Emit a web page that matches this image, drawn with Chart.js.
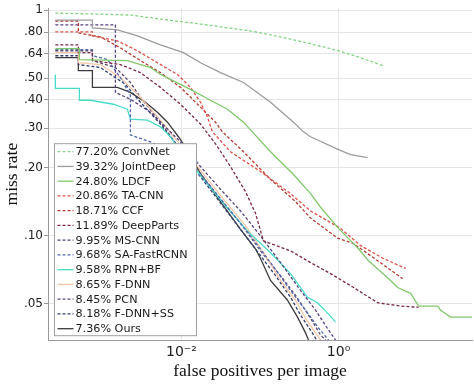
<!DOCTYPE html>
<html><head><meta charset="utf-8">
<script src="https://cdn.jsdelivr.net/npm/chart.js@4/dist/chart.umd.min.js"></script>
<style>html,body{margin:0;padding:0;background:#fff;}#wrap{width:474px;height:385px;position:relative;}</style>
</head><body><div id="wrap"><canvas id="c" width="474" height="385"></canvas></div>
<script>
const methods = ['ConvNet','JointDeep','LDCF','TA-CNN','CCF','DeepParts','MS-CNN','SA-FastRCNN','RPN+BF','F-DNN','PCN','F-DNN+SS','Ours'];
const rates = ['77.20%','39.32%','24.80%','20.86%','18.71%','11.89%','9.95%','9.68%','9.58%','8.65%','8.45%','8.18%','7.36%'];

const convnetFppi = [2.48e-4, 9.29e-4, 2.24e-3, 5.40e-3, 0.01746, 0.0757, 0.1825, 0.440, 1.0, 1.907, 3.64];
const convnetMiss = [0.970, 0.960, 0.951, 0.913, 0.868, 0.809, 0.761, 0.710, 0.661, 0.616, 0.568];
const jointdeepFppi = [2.48e-4, 7.35e-4, 7.35e-4, 1.53e-3, 2.75e-3, 5.40e-3, 0.0106, 0.01746, 0.0314, 0.06164, 0.1361, 0.2672, 0.3583, 0.4398, 1.0, 1.422, 2.341];
const jointdeepMiss = [0.904, 0.904, 0.834, 0.817, 0.769, 0.702, 0.648, 0.585, 0.529, 0.478, 0.391, 0.319, 0.289, 0.275, 0.241, 0.229, 0.222];
const ldcfFppi = [2.48e-4, 5.02e-4, 5.02e-4, 2.05e-3, 4.03e-3, 5.40e-3, 0.01302, 0.02341, 0.03855, 0.06164, 0.0757, 0.1361, 0.2672, 0.4398, 0.5899, 1.0, 1.746, 2.411, 4.597, 5.645, 8.264, 10.45, 18.25, 19.93, 26.72, 50];
const ldcfMiss = [0.675, 0.675, 0.604, 0.598, 0.557, 0.519, 0.446, 0.399, 0.364, 0.319, 0.295, 0.236, 0.187, 0.154, 0.134, 0.108, 0.0886, 0.0777, 0.0635, 0.0591, 0.0557, 0.0489, 0.0489, 0.0469, 0.0437, 0.0437];
const tacnnFppi = [2.48e-4, 7.35e-4, 7.35e-4, 1.53e-3, 2.75e-3, 4.94e-3, 8.89e-3, 0.01302, 0.01746, 0.02144, 0.02483, 0.0421, 0.1015, 0.2446, 0.4398, 1.060, 1.907, 3.743, 7.137];
const tacnnMiss = [0.801, 0.801, 0.769, 0.731, 0.661, 0.585, 0.519, 0.455, 0.391, 0.336, 0.289, 0.236, 0.193, 0.154, 0.129, 0.108, 0.0906, 0.0794, 0.0718];
const ccfFppi = [2.48e-4, 4.87e-4, 4.87e-4, 9.29e-4, 1.67e-3, 3.0e-3, 5.40e-3, 9.71e-3, 0.01746, 0.02711, 0.0333, 0.06164, 0.1361, 0.2833, 0.4398, 0.9712, 1.553, 3.140, 6.535];
const ccfMiss = [0.895, 0.895, 0.793, 0.761, 0.681, 0.598, 0.529, 0.455, 0.372, 0.319, 0.289, 0.236, 0.178, 0.142, 0.120, 0.0978, 0.0925, 0.0777, 0.0647];
const deeppartsFppi = [2.48e-4, 4.87e-4, 4.87e-4, 7.35e-4, 7.35e-4, 1.67e-3, 3.0e-3, 5.40e-3, 9.71e-3, 0.01746, 0.02711, 0.0421, 0.06535, 0.08764, 0.1108, 0.2446, 0.4398, 0.7911, 1.553, 3.140, 6.164, 10.45];
const deeppartsMiss = [0.702, 0.702, 0.648, 0.648, 0.598, 0.574, 0.529, 0.455, 0.383, 0.313, 0.256, 0.203, 0.157, 0.126, 0.095, 0.0859, 0.0762, 0.0681, 0.0591, 0.0506, 0.0489, 0.0483];
const mscnnFppi = [2.48e-4, 1.443e-3, 1.443e-3, 2.24e-3, 4.03e-3, 6.25e-3, 9.71e-3, 0.01746, 0.0314, 0.05645, 0.1015, 0.1825, 0.3281, 0.5093, 0.746, 0.9158];
const mscnnMiss = [0.860, 0.860, 0.432, 0.403, 0.353, 0.304, 0.261, 0.203, 0.161, 0.129, 0.100, 0.0762, 0.0574, 0.0469, 0.0383, 0.0346];
const safastFppi = [2.48e-4, 7.35e-4, 7.35e-4, 1.141e-3, 1.67e-3, 2.24e-3, 2.24e-3, 4.03e-3, 7.24e-3, 0.01302, 0.02341, 0.0421, 0.0757, 0.1361, 0.2446, 0.3799, 0.556, 0.746];
const safastMiss = [0.668, 0.668, 0.628, 0.604, 0.503, 0.420, 0.280, 0.261, 0.236, 0.203, 0.166, 0.129, 0.100, 0.0762, 0.0574, 0.0469, 0.0391, 0.0346];
const rpnbfFppi = [2.48e-4, 2.48e-4, 5.02e-4, 5.02e-4, 6.93e-4, 1.36e-3, 2.05e-3, 2.24e-3, 3.69e-3, 5.40e-3, 7.24e-3, 9.71e-3, 0.01422, 0.02022, 0.03636, 0.06932, 0.1361, 0.2446, 0.4028, 0.5401, 0.7244, 0.9158];
const rpnbfMiss = [0.519, 0.450, 0.450, 0.399, 0.399, 0.383, 0.364, 0.329, 0.326, 0.304, 0.275, 0.236, 0.203, 0.174, 0.136, 0.105, 0.0842, 0.0681, 0.0535, 0.0506, 0.0455, 0.0416];
const fdnnFppi = [2.48e-4, 4.87e-4, 4.87e-4, 9.29e-4, 1.67e-3, 3.0e-3, 5.40e-3, 8.39e-3, 0.01302, 0.02022, 0.03636, 0.06535, 0.1175, 0.1825, 0.2833, 0.3799, 0.5093, 0.5899];
const fdnnMiss = [0.648, 0.648, 0.585, 0.574, 0.503, 0.411, 0.326, 0.269, 0.224, 0.183, 0.142, 0.111, 0.0818, 0.0635, 0.0519, 0.0432, 0.0372, 0.0346];
const pcnFppi = [2.48e-4, 7.35e-4, 7.35e-4, 1.443e-3, 2.24e-3, 3.0e-3, 5.40e-3, 9.71e-3, 0.01746, 0.0314, 0.05645, 0.1015, 0.1825, 0.2833, 0.4398, 0.5899, 0.6831];
const pcnMiss = [0.661, 0.661, 0.598, 0.557, 0.478, 0.411, 0.319, 0.241, 0.189, 0.145, 0.114, 0.0859, 0.0667, 0.0546, 0.0432, 0.0364, 0.0346];
const fdnnssFppi = [2.48e-4, 4.87e-4, 4.87e-4, 9.29e-4, 1.934e-3, 3.0e-3, 5.40e-3, 9.71e-3, 0.01746, 0.0314, 0.05645, 0.1015, 0.1576, 0.2446, 0.3281, 0.4398, 0.5245];
const fdnnssMiss = [0.628, 0.628, 0.574, 0.557, 0.469, 0.391, 0.313, 0.241, 0.183, 0.140, 0.107, 0.0818, 0.0667, 0.0535, 0.0446, 0.0383, 0.0346];
const oursFppi = [2.48e-4, 4.87e-4, 4.87e-4, 7.35e-4, 7.35e-4, 1.53e-3, 2.24e-3, 3.48e-3, 4.94e-3, 6.63e-3, 9.16e-3, 0.01228, 0.01746, 0.0314, 0.05645, 0.08764, 0.1015, 0.1361, 0.224, 0.3004, 0.3799, 0.4148];
const oursMiss = [0.616, 0.616, 0.540, 0.540, 0.455, 0.455, 0.432, 0.391, 0.353, 0.319, 0.275, 0.236, 0.189, 0.142, 0.107, 0.0877, 0.0794, 0.0635, 0.0519, 0.0437, 0.0372, 0.0346];

const yTickValues = [1, 0.8, 0.64, 0.5, 0.4, 0.3, 0.2, 0.1, 0.05];
const yTickLabels = ['1', '.80', '.64', '.50', '.40', '.30', '.20', '.10', '.05'];
const xTickValues = [0.01, 1];
const xTickLabels = ['10\u207B\u00B2', '10\u2070'];

const seriesFppi = [convnetFppi, jointdeepFppi, ldcfFppi, tacnnFppi, ccfFppi, deeppartsFppi, mscnnFppi, safastFppi, rpnbfFppi, fdnnFppi, pcnFppi, fdnnssFppi, oursFppi];
const seriesMiss = [convnetMiss, jointdeepMiss, ldcfMiss, tacnnMiss, ccfMiss, deeppartsMiss, mscnnMiss, safastMiss, rpnbfMiss, fdnnMiss, pcnMiss, fdnnssMiss, oursMiss];

const styles = [
  {color: '#86d486', dash: [3, 2]},
  {color: '#9c9c9c', dash: []},
  {color: '#80c86c', dash: []},
  {color: '#e0504a', dash: [3, 2]},
  {color: '#b83a2e', dash: [3, 2]},
  {color: '#7a2848', dash: [3, 2]},
  {color: '#574080', dash: [3, 2]},
  {color: '#4f68b0', dash: [3, 2]},
  {color: '#48dcc8', dash: []},
  {color: '#f2c6a6', dash: []},
  {color: '#5c4670', dash: [3, 2]},
  {color: '#2e3d6c', dash: [3, 2]},
  {color: '#3c3c3c', dash: []}
];

const datasets = methods.map((m, i) => ({
  label: rates[i] + ' ' + m,
  data: seriesFppi[i].map((f, j) => ({x: f, y: seriesMiss[i][j]})),
  borderColor: styles[i].color,
  borderDash: styles[i].dash,
  borderWidth: 1.3,
  pointRadius: 0,
  tension: 0,
  fill: false
}));

const boxLegend = {
  id: 'boxLegend',
  afterDatasetsDraw(chart) {
    const ctx = chart.ctx;
    const ca = chart.chartArea;
    const left = ca.left + 6.5, top = ca.top + 135.5, w = 142, h = 192, row = 14.75;
    ctx.save();
    ctx.fillStyle = '#fff';
    ctx.fillRect(left, top, w, h);
    ctx.strokeStyle = '#a0a0a0';
    ctx.lineWidth = 1;
    ctx.strokeRect(left, top, w, h);
    ctx.font = '11.2px "DejaVu Sans"';
    ctx.textBaseline = 'middle';
    ctx.textAlign = 'left';
    chart.data.datasets.forEach((ds, i) => {
      const y = top + 8 + i * row;
      ctx.beginPath();
      ctx.setLineDash(ds.borderDash || []);
      ctx.strokeStyle = ds.borderColor;
      ctx.lineWidth = 1.3;
      ctx.moveTo(left + 3, y);
      ctx.lineTo(left + 19, y);
      ctx.stroke();
      ctx.setLineDash([]);
      ctx.fillStyle = '#1a1a1a';
      ctx.fillText(ds.label, left + 21, y + 0.5);
    });
    ctx.restore();
  }
};

new Chart(document.getElementById('c'), {
  type: 'line',
  data: {datasets},
  plugins: [boxLegend],
  options: {
    responsive: false,
    devicePixelRatio: 1,
    animation: false,
    layout: {padding: {left: 0, right: 2, top: 5, bottom: 0}},
    plugins: {legend: {display: false}, tooltip: {enabled: false}},
    scales: {
      x: {
        type: 'logarithmic',
        min: 2e-4, max: 50,
        afterBuildTicks: s => { s.ticks = xTickValues.map(v => ({value: v})); },
        afterFit: s => { s.height = 45; },
        ticks: {
          callback: (v, i) => xTickLabels[i],
          autoSkip: false, maxRotation: 0, minRotation: 0,
          font: {family: 'DejaVu Sans', size: 14},
          color: '#222', padding: 4
        },
        grid: {color: '#e6e6e6', drawTicks: false},
        border: {color: '#9a9a9a'},
        title: {display: true, text: 'false positives per image',
          font: {family: 'Liberation Serif', size: 17.5}, color: '#111',
          padding: {top: 0, bottom: 3.5}}
      },
      y: {
        type: 'logarithmic',
        min: 0.0346, max: 1.02,
        afterBuildTicks: s => { s.ticks = yTickValues.map(v => ({value: v})); },
        afterFit: s => { s.width = 48; },
        ticks: {
          callback: (v, i) => yTickLabels[i],
          autoSkip: false,
          font: {family: 'DejaVu Sans', size: 12},
          color: '#222', padding: 1
        },
        grid: {color: '#e6e6e6', tickColor: '#999', tickLength: 4},
        border: {color: '#9a9a9a'},
        title: {display: true, text: 'miss rate',
          font: {family: 'Liberation Serif', size: 17.5}, color: '#111',
          padding: {top: 1.5, bottom: 0}}
      }
    }
  }
});
</script>
</body></html>
